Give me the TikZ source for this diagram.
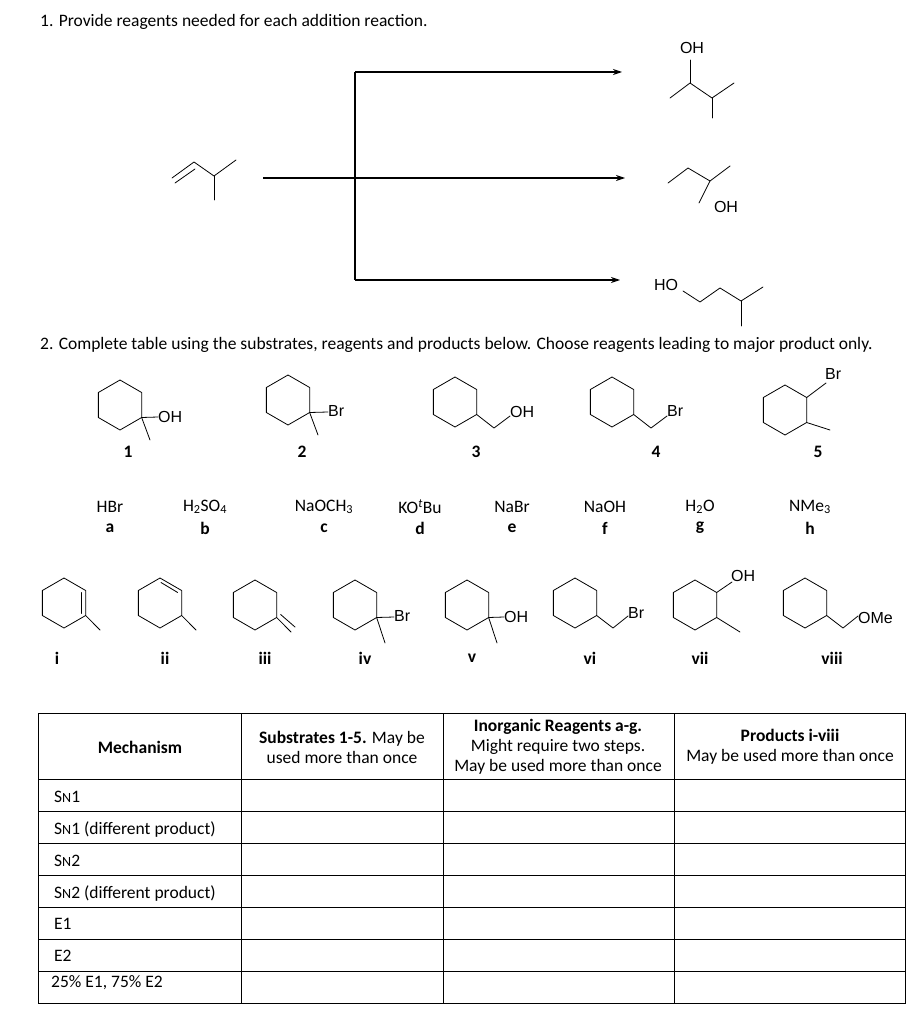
\documentclass[tikz,border=0pt]{standalone}
\usepackage{fontspec}
\usetikzlibrary{calc,arrows.meta}
\setmainfont{Carlito}
\newfontfamily\chemf{Liberation Sans}
\begin{document}
\begin{tikzpicture}[x=1pt,y=-1pt,
  bond/.style={line width=0.8pt,line cap=round,line join=round},
  tx/.style={font=\fontsize{17.5}{20}\selectfont,inner sep=0pt},
  lb/.style={font=\fontsize{17.5}{20}\selectfont\bfseries,inner sep=0pt},
  atom/.style={font=\chemf\fontsize{16}{18}\selectfont,inner sep=1pt},
  arr/.style={line width=1.1pt,-{Stealth[length=9pt,width=6pt]}}]
\useasboundingbox (0,0) rectangle (923,1024);
\newcommand{\hexring}[3]{% name, x, y
  \coordinate (#1t) at (#2,#3-25);
  \coordinate (#1ur) at (#2+21.65,#3-12.5);
  \coordinate (#1lr) at (#2+21.65,#3+12.5);
  \coordinate (#1b) at (#2,#3+25);
  \coordinate (#1ll) at (#2-21.65,#3+12.5);
  \coordinate (#1ul) at (#2-21.65,#3-12.5);
  \draw[bond] (#1t)--(#1ur)--(#1lr)--(#1b)--(#1ll)--(#1ul)--cycle;}
\newcommand{\sn}[1]{S{\fontsize{14}{15}\selectfont N}#1}
% ---- part 1
\node[tx,anchor=west] (t1) at (40,22) {1. Provide reagents needed for each addition reaction.};
\draw[bond] (172,178)--(194,162)--(214,176)--(236,160);
\draw[bond] (175,183)--(195,169);
\draw[bond] (214,176)--(214,200);
\coordinate (vt) at (355,72); \coordinate (vb) at (355,280);
\coordinate (ms) at (263,178);
\coordinate (e1) at (622,72); \coordinate (e2) at (625,178); \coordinate (e3) at (620,280);
\draw[line width=1.1pt] (vt)--(vb);
\draw[arr] (vt)--(e1);
\draw[arr] (ms)--(e2);
\draw[arr] (vb)--(e3);
% product a
\draw[bond] (670,98)--(690,83)--(712,98)--(734,83);
\draw[bond] (690,83)--(690,60); \draw[bond] (712,98)--(712,118);
\node[atom] (oh1) at (692,48) {OH};
% product b
\draw[bond] (668,183)--(688,168)--(710,181)--(730,166);
\draw[bond] (710,181)--(699,203);
\node[atom] (oh2) at (726,207) {OH};
% product c
\node[atom] (ho3) at (666,285) {HO};
\draw[bond] (683,291)--(700,302)--(720,288)--(741,301)--(763,287);
\draw[bond] (741,301)--(741,326);
% ---- part 2
\node[tx,anchor=west] (t2) at (40,345) {2. Complete table using the substrates, reagents and products below. Choose reagents leading to major product only.};
% substrate 1
\hexring{sa}{120}{405}
\draw[bond] (salr)--(158,417); \node[atom,anchor=west] (sa1) at (157,417) {OH};
\draw[bond] (salr)--(150,440);
% substrate 2
\hexring{sb}{288}{400}
\draw[bond] (sblr)--(328,412); \node[atom,anchor=west] (sb1) at (327,411) {Br};
\draw[bond] (sblr)--(318,435);
% substrate 3
\hexring{sc}{455}{402}
\draw[bond] (sclr)--(494,428)--(510,416); \node[atom,anchor=west] (sc1) at (509,412) {OH};
% substrate 4
\hexring{sd}{612}{402}
\draw[bond] (sdlr)--(651,428)--(667,416); \node[atom,anchor=west] (sd1) at (666,411) {Br};
% substrate 5
\hexring{se}{785}{410}
\draw[bond] (seur)--(826,383); \node[atom,anchor=west] (se1) at (824,374) {Br};
\draw[bond] (selr)--(830,430);
\foreach \x/\t in {128/1,302/2,476/3,656/4,818/5}
  \node[lb] at (\x,452) {\t};
% reagents
\foreach \x/\r/\l in {110/HBr/a,205/H\textsubscript{2}SO\textsubscript{4}/b,324/NaOCH\textsubscript{3}/c,420/KO\textsuperscript{\itshape t}Bu/d,512/NaBr/e,605/NaOH/f,700/H\textsubscript{2}O/g,810/NMe\textsubscript{3}/h}{
  \node[tx] at (\x,507) {\r};
  \node[lb] at (\x,528) {\l};}
% products
\hexring{pa}{64}{603}
\draw[bond] ($(paur)+(-4,2)$)--($(palr)+(-4,-2)$);
\draw[bond] (palr)--(100,630);
\hexring{pb}{160}{603}
\draw[bond] ($(pbt)+(1,4.5)$)--($(pbur)+(-4,2)$);
\draw[bond] (pblr)--(196,630);
\hexring{pc}{255}{605}
\draw[bond] (pclr)--(291,632); \draw[bond] ($(pclr)+(4,-3)$)--(295,627);
\hexring{pd}{355}{605}
\draw[bond] (pdlr)--(394,617); \node[atom,anchor=west] (pd1) at (393,616) {Br};
\draw[bond] (pdlr)--(385,643);
\hexring{pe}{467}{605}
\draw[bond] (pelr)--(504,617); \node[atom,anchor=west] (pe1) at (503,617) {OH};
\draw[bond] (pelr)--(497,643);
\hexring{pf}{575}{603}
\draw[bond] (pflr)--(613,628)--(628,616); \node[atom,anchor=west] (pf1) at (627,613) {Br};
\hexring{pg}{695}{605}
\draw[bond] (pgur)--(732,582); \node[atom,anchor=west] (pg1) at (730,576) {OH};
\draw[bond] (pglr)--(740,632);
\hexring{ph}{805}{603}
\draw[bond] (phlr)--(843,628)--(858,616); \node[atom,anchor=west] (ph1) at (857,618) {OMe};
\foreach \x/\t in {57/i,165/ii,265/iii,365/iv,472/v,590/vi,700/vii,832/viii}
  \node[lb] at (\x,658) {\t};
% ---- table
\draw[line width=0.9pt] (38,713) rectangle (905,1003);
\foreach \x in {241,443,674} \draw[line width=0.9pt] (\x,713)--(\x,1003);
\foreach \y in {779,811,843,875,907,939,971} \draw[line width=0.9pt] (38,\y)--(905,\y);
\node[lb] (h1) at (140,747) {Mechanism};
\node[tx,align=center] (h2) at (342,747) {\textbf{Substrates 1-5.} May be\\used more than once};
\node[tx,align=center] (h3) at (558,747) {\textbf{Inorganic Reagents a-g.}\\Might require two steps.\\May be used more than once};
\node[tx,align=center] (h4) at (790,747) {\textbf{Products i-viii}\\May be used more than once};
\foreach \y/\t in {797/\sn{1},829/\sn{1} (different product),861/\sn{2},893/\sn{2} (different product),924/E1,956/E2}
  \node[tx,anchor=west] at (54,\y) {\t};
\node[tx,anchor=west] at (51,983) {25\% E1, 75\% E2};
\end{tikzpicture}
\end{document}
